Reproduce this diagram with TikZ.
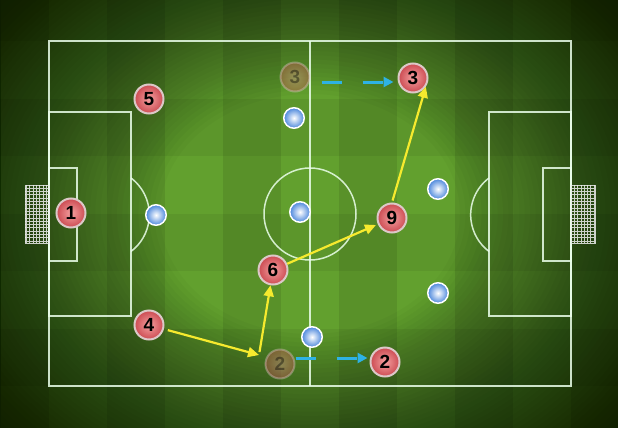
\documentclass[tikz,border=0pt]{standalone}
\usepackage{fontspec}
\setmainfont{Liberation Sans}
\usepackage{tikz}
\usetikzlibrary{calc}
\usetikzlibrary{arrows.meta}
\definecolor{turf}{HTML}{62A02E}
\definecolor{ring}{HTML}{DCC8C8}
\definecolor{red in}{HTML}{F4A0A0}
\definecolor{red out}{HTML}{CC4B52}
\definecolor{away blue}{HTML}{4A86DC}
\definecolor{pass yellow}{HTML}{F6EA2E}
\definecolor{run blue}{HTML}{2EB2E4}
\tikzset{
  pitch line/.style={draw=white!92!green, line width=1.5pt, opacity=0.85},
  net/.style={draw=white!85!gray, line width=0.6pt, opacity=0.85},
  home/.style={circle, minimum size=29pt, inner sep=0pt, draw=ring, line width=2pt,
    inner color=red in, outer color=red out, font=\fontsize{19}{19}\selectfont\bfseries},
  old/.style={home, opacity=0.4},
  away/.style={circle, minimum size=20.5pt, inner sep=0pt, draw=white, line width=1.5pt,
    inner color=white, outer color=away blue},
  pass/.style={draw=pass yellow, line width=2.2pt, -{Triangle[length=11pt,width=10pt]}},
  run/.style={draw=run blue, line width=3pt, dash pattern=on 20pt off 21pt,
    -{Triangle[length=10pt,width=10pt]}}
}
\begin{document}
\begin{tikzpicture}[x=1pt,y=-1pt]
  \useasboundingbox (0,0) rectangle (618,428);
  \fill[turf] (0,0) rectangle (618,428);
  \foreach \k in {0,...,49}
    \fill[black, opacity=0.024, even odd rule] (0,0) rectangle (618,428)
      (310,214) ellipse[x radius={150+5.4*\k}, y radius={0.8*(150+5.4*\k)}];
  \foreach \i in {-1,1,3,5,7,9}
    \fill[black, opacity=0.09] ({49+58*\i},0) rectangle ({107+58*\i},428);
  \foreach \j in {-1,1,3,5}
    \fill[black, opacity=0.06] (0,{41+57.5*\j}) rectangle (618,{98.5+57.5*\j});
  \draw[pitch line] (49,41) rectangle (571,386);
  \draw[pitch line] (310,41) -- (310,386);
  \draw[pitch line] (310,214) circle[radius=46];
  \draw[pitch line] (49,112) rectangle (131,316);
  \draw[pitch line] (49,168) rectangle (77,261);
  \draw[pitch line] (571,112) rectangle (489,316);
  \draw[pitch line] (571,168) rectangle (543,261);
  \draw[pitch line] (131,178) arc[start angle=-53, end angle=53, radius=46];
  \draw[pitch line] (489,178) arc[start angle=233, end angle=127, radius=46];
  \draw[net] (25,185) grid[step=3.3pt] (49,243);
  \draw[net] (25,185) rectangle (49,243);
  \draw[net] (571,185) grid[step=3.3pt] (595,243);
  \draw[net] (571,185) rectangle (595,243);
  \node[away] (o 1) at (156,215) {};
  \node[away] (o 2) at (294,118) {};
  \node[away] (o 3) at (300,212) {};
  \node[away] (o 4) at (312,337) {};
  \node[away] (o 5) at (438,189) {};
  \node[away] (o 6) at (438,293) {};
  \node[old] (p 3 old) at (295,77) {3};
  \node[old] (p 2 old) at (280,364) {2};
  \node[home] (p 1) at (71,213) {1};
  \node[home] (p 5) at (149,99) {5};
  \node[home] (p 4) at (149,325) {4};
  \node[home] (p 6) at (273,270) {6};
  \node[home] (p 9) at (392,218) {9};
  \node[home] (p 2) at (385,362) {2};
  \node[home] (p 3) at (413,78) {3};
  \coordinate (r 2) at (259,355);
  \draw[pass, shorten <=4pt] (p 4) -- (r 2);
  \draw[pass, shorten <=3pt] (r 2) -- (p 6);
  \draw[pass, shorten >=2pt] (p 6) -- (p 9);
  \draw[pass, shorten <=2pt] (p 9.north) -- (p 3.-34);
  \draw[run, shorten <=11pt, shorten >=4pt] ([yshift=-5pt]p 3 old.east) -- ([yshift=-4pt]p 3.west);
  \draw[run, shorten >=2pt] ([yshift=6pt]p 2 old.east) -- ([yshift=4pt]p 2.west);
\end{tikzpicture}
\end{document}
